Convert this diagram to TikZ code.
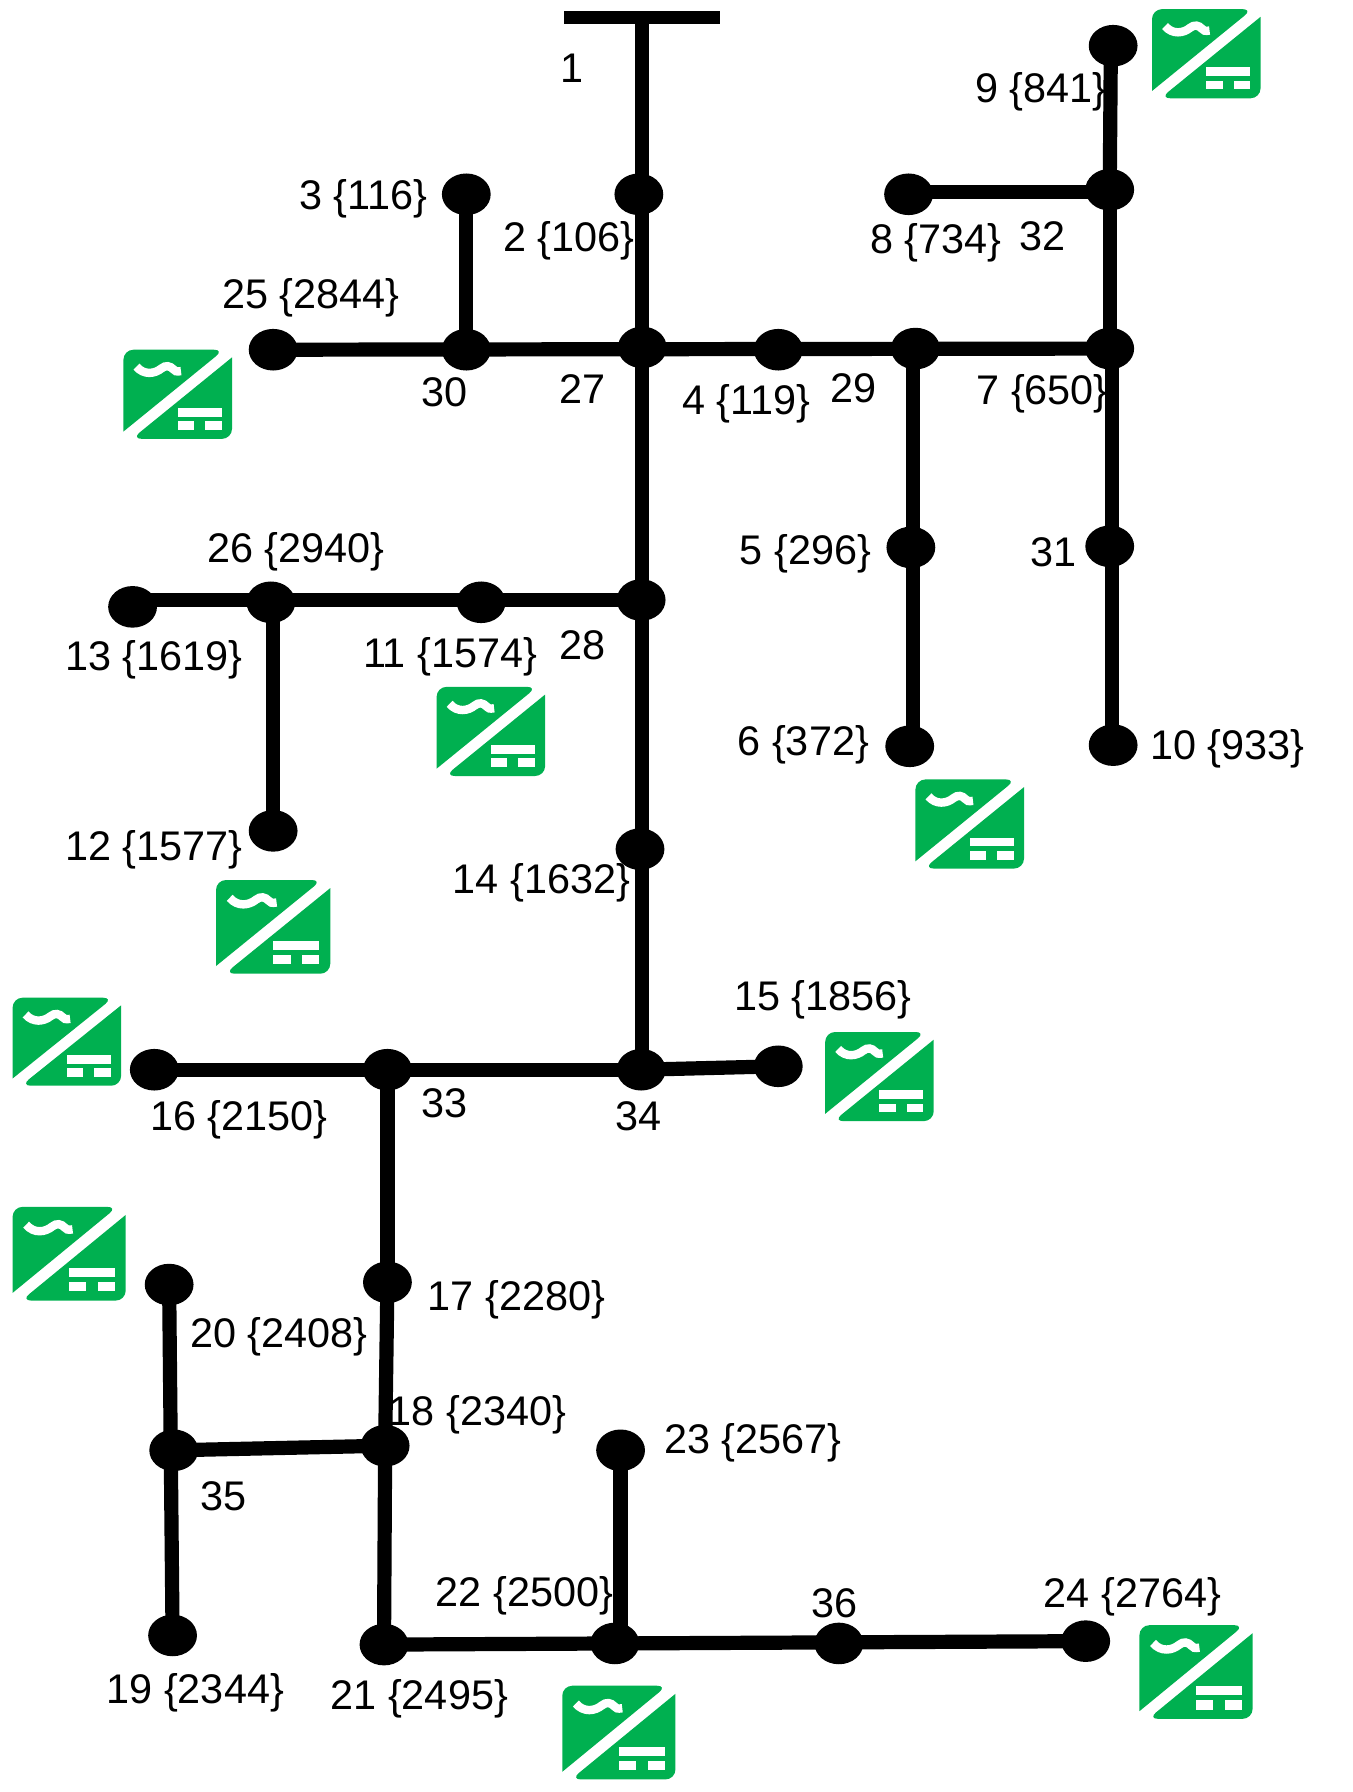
\documentclass[tikz,border=0pt]{standalone}
\usepackage{fontspec}
\setmainfont{Liberation Sans}
\definecolor{icongreen}{HTML}{00B050}
\newcommand{\pvicon}[4]{%
\begin{scope}[shift={(#1,#2)},x={(#3*0.5714pt-#1*0.5714pt,0pt)},y={(0pt,#2*0.5714pt-#4*0.5714pt)}]
\fill[icongreen] (0,.918) {[rounded corners=5pt] -- (0,0) -- (.926,0)} -- cycle;
\fill[icongreen] (1,.086) {[rounded corners=5pt] -- (1,1) -- (.077,1)} -- cycle;
\fill[white] (.50,.653) rectangle (.905,.75);
\fill[white] (.50,.802) rectangle (.652,.90);
\fill[white] (.754,.802) rectangle (.905,.90);
\draw[white,line width=4.2pt] (.12,.19) .. controls (.19,.29) and (.29,.27) .. (.35,.21) .. controls (.39,.17) and (.43,.18) .. (.46,.22) .. controls (.47,.24) and (.49,.25) .. (.53,.24);
\end{scope}}
\tikzset{
  x=0.5714pt,y=-0.5714pt,
  bus/.style={ellipse,fill=black,inner sep=0pt,minimum width=24.4pt,minimum height=20.8pt},
  wire/.style={draw=black,line width=7.1pt},
  lbl/.style={inner sep=0pt,xshift=0.5pt,font=\fontsize{20.7}{24}\selectfont,text height=14.8pt,text depth=0pt,text=black},
  bar/.style={fill=black,inner sep=0pt,minimum width=78pt,minimum height=6.4pt}
}
\usetikzlibrary{shapes.geometric}
\begin{document}
\begin{tikzpicture}
\useasboundingbox (0,0) rectangle (1183,1568);
\node[bar] (n1) at (562,15) {};
\foreach \n/\x/\y in {2/559/170,3/408/170,25/239/306,30/408/306,27/562/304,4/681/306,29/801/305,7/971/305,32/971/166,9/974/40,8/795/170,5/797/479,6/796/653,31/971/478,10/974/652,28/561/525,11/421/527,26/237/527,13/116/531,12/239/727,14/560/743,34/561/936,15/681/933,33/339/936,16/135/936,17/339/1122,18/337/1265,35/152/1269,20/148/1124,19/151/1431,21/336/1439,22/538/1438,23/543/1269,36/734/1438,24/950/1436}
  \node[bus] (n\n) at (\x,\y) {};
\coordinate (top29) at (799,305);
\coordinate (end6) at (799,653);
\coordinate (end7) at (973,305);
\coordinate (end10) at (973,652);
\coordinate (mid32) at (795,168);
\coordinate (end32) at (971,168);
\coordinate (top9) at (972,40);
\draw[wire] (n27.center) -- (n27.center |- n1.center);
\draw[wire] (n3.center) -- (n30.center);
\draw[wire] (n25.center) -- (n7.center);
\draw[wire] (n7.center) -- (n32.center);
\draw[wire] (n32.center) -- (top9);
\draw[wire] (mid32) -- (end32);
\draw[wire] (top29) -- (end6);
\draw[wire] (end7) -- (end10);
\draw[wire] (n27.center) -- (n27.center |- n34.center);
\draw[wire] (n13.center |- n28.center) -- (n28.center);
\draw[wire] (n12.center |- n26.center) -- (n12.center);
\draw[wire] (n16.center) -- (n34.center);
\draw[wire] (n34.center) -- (n15.center);
\draw[wire] (n33.center) -- (n17.center);
\draw[wire] (n17.center) -- (n18.center);
\draw[wire] (n18.center) -- (n21.center);
\draw[wire] (n20.center) -- (n19.center);
\draw[wire] (n35.center) -- (n18.center);
\draw[wire] (n21.center) -- (n24.center);
\draw[wire] (n23.center) -- (n23.center |- n22.center);
\foreach \i/\x/\y/\t in {a/500/59/{1},b/317/170/{3 \{116\}},c/497/207/{2 \{106\}},d/271/257/{25 \{2844\}},e/388/343/{30},f/509/340/{27},g/652/350/{4 \{119\}},h/746/339/{29},i/911/341/{7 \{650\}},j/818/209/{8 \{734\}},k/911/206/{32},l/910/77/{9 \{841\}},m/258/479/{26 \{2940\}},n/704/481/{5 \{296\}},o/921/483/{31},p/134/574/{13 \{1619\}},q/393/571/{11 \{1574\}},r/509/564/{28},s/702/648/{6 \{372\}},t/1073/652/{10 \{933\}},u/134/740/{12 \{1577\}},v/473/769/{14 \{1632\}},w/719/871/{15 \{1856\}},x/388/965/{33},y/558/976/{34},z/208/976/{16 \{2150\}},aa/451/1134/{17 \{2280\}},ab/243/1166/{20 \{2408\}},ac/417/1234/{18 \{2340\}},ad/658/1259/{23 \{2567\}},ae/195/1309/{35},af/458/1393/{22 \{2500\}},ag/729/1402/{36},ah/990/1394/{24 \{2764\}},ai/170/1478/{19 \{2344\}},aj/366/1483/{21 \{2495\}}}
  \node[lbl] (t\i) at (\x,\y) {\t};
\pvicon{1008}{8}{1103}{86}
\pvicon{108}{306}{203}{384}
\pvicon{382}{601}{477}{679}
\pvicon{801}{682}{896}{760}
\pvicon{189}{770}{289}{852}
\pvicon{11}{873}{106}{950}
\pvicon{722}{903}{817}{981}
\pvicon{11}{1056}{110}{1138}
\pvicon{997}{1422}{1096}{1504}
\pvicon{492}{1475}{591}{1557}
\end{tikzpicture}
\end{document}
